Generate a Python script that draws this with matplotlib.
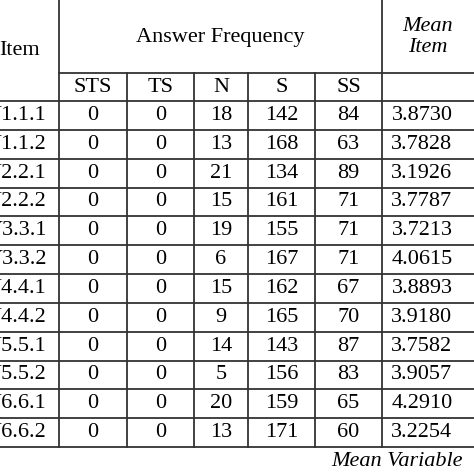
import matplotlib
matplotlib.use("Agg")
import matplotlib.pyplot as plt

items = ["Y1.1.1","Y1.1.2","Y2.2.1","Y2.2.2","Y3.3.1","Y3.3.2","Y4.4.1","Y4.4.2","Y5.5.1","Y5.5.2","Y6.6.1","Y6.6.2"]
sts = [0]*12
ts = [0]*12
n = [18,13,21,15,19,6,15,9,14,5,20,13]
s = [142,168,134,161,155,167,162,165,143,156,159,171]
ss = [84,63,89,71,71,71,67,70,87,83,65,60]
mean_item = ["3.8730","3.7828","3.1926","3.7787","3.7213","4.0615","3.8893","3.9180","3.7582","3.9057","4.2910","3.2254"]
sub_headers = ["STS","TS","N","S","SS"]

fig = plt.figure(figsize=(4.74,4.74), dpi=100)
ax = fig.add_axes([0,0,1,1])
ax.set_xlim(0,474); ax.set_ylim(474,0); ax.axis("off")
font = "Liberation Serif"; fs = 16; lc = "#333333"; lw = 1.3

xs = [59,127,194,248,315,382]
y_head = 73; y_sub = 101; row_h = (447-101)/12
for x in xs:
    top = 0 if x in (59,382) else y_head
    ax.plot([x,x],[top,447],color=lc,lw=lw)
ax.plot([59,474],[y_head,y_head],color=lc,lw=lw)
for i in range(13):
    y = y_sub + i*row_h
    ax.plot([0,474],[y,y],color=lc,lw=lw)

ax.text(20,50,"Item",family=font,fontsize=fs,ha="center",va="center")
ax.text(220,37,"Answer Frequency",family=font,fontsize=fs,ha="center",va="center")
ax.text(428,37,"Mean\nItem",family=font,fontsize=fs,ha="center",va="center",style="italic",linespacing=1.2)
for j,h in enumerate(sub_headers):
    ax.text((xs[j]+xs[j+1])/2,87,h,family=font,fontsize=fs,ha="center",va="center")
cols = [sts,ts,n,s,ss]
for i in range(12):
    yc = y_sub + (i+0.5)*row_h
    ax.text(47,yc,items[i],family=font,fontsize=fs,ha="right",va="center")
    for j,c in enumerate(cols):
        ax.text((xs[j]+xs[j+1])/2,yc,str(c[i]),family=font,fontsize=fs,ha="center",va="center")
    ax.text(422,yc,mean_item[i],family=font,fontsize=fs,ha="center",va="center")
ax.text(463,462,"Mean Variable",family=font,fontsize=fs,ha="right",va="center",style="italic")
fig.savefig("out.png",dpi=100,facecolor="white")
